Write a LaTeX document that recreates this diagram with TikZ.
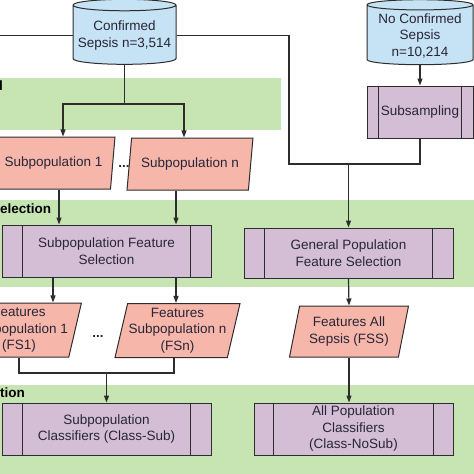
\documentclass[tikz,border=0pt]{standalone}
\usepackage{fontspec}
\setmainfont{Liberation Sans}
\usepackage{tikz}
\usepackage{xcolor}
\usetikzlibrary{shapes.geometric, arrows.meta}

\definecolor{bandgreen}{RGB}{198,229,178}
\definecolor{dbblue}{RGB}{198,226,245}
\definecolor{iopink}{RGB}{246,182,170}
\definecolor{procpurple}{RGB}{212,190,214}
\definecolor{linegray}{RGB}{45,45,45}
\definecolor{textdark}{RGB}{40,38,55}

% vertical side bars of a predefined-process box
\newcommand{\sidebars}[2]{%
  \draw[line] ([xshift=#2]#1.north west) -- ([xshift=#2]#1.south west);
  \draw[line] ([xshift=-#2]#1.north east) -- ([xshift=-#2]#1.south east);}

\begin{document}
\begin{tikzpicture}[
  x=1pt, y=-1pt,
  base/.style={font=\fontsize{13.5}{16.5}\selectfont, text=textdark, align=center, inner sep=1pt},
  db/.style={base, cylinder, shape border rotate=90, aspect=0.12, draw=linegray, line width=1pt, fill=dbblue},
  proc/.style={base, rectangle, draw=linegray, line width=1pt, fill=procpurple},
  io/.style={base, trapezium, trapezium left angle=75, trapezium right angle=105, trapezium stretches=true, draw=linegray, line width=1pt, fill=iopink},
  band label/.style={font=\fontsize{13.5}{16.5}\selectfont\bfseries, text=black, inner sep=0pt, anchor=west},
  line/.style={draw=linegray, line width=1.2pt},
  arrow/.style={line, ->},
  >={Triangle[length=7pt, width=5pt]}
]
  \useasboundingbox (0,0) rectangle (474,474);
  \clip (0,0) rectangle (474,474);

  % Green stage bands
  \fill[bandgreen] (0,78) rectangle (281,130);
  \fill[bandgreen] (0,200) rectangle (474,287);
  \fill[bandgreen] (0,385) rectangle (474,474);
  \node[band label] (lab1) at (-1,86) {l};
  \node[band label] (lab2) at (0,209) {election};
  \node[band label] (lab3) at (0,393) {tion};

  % Data sources
  \node[db, minimum width=103pt, minimum height=65pt] (conf) at (124.5,35.5) {Confirmed\\Sepsis n=3,514};
  \node[db, minimum width=106pt, minimum height=65pt] (nocon) at (420,35.5) {No Confirmed\\Sepsis\\n=10,214};
  \node[proc, minimum width=106pt, minimum height=52pt] (subs) at (420,112) {Subsampling};

  % Subpopulations
  \node[io, minimum width=123pt, minimum height=52pt] (sp1) at (53.5,163) {Subpopulation 1};
  \node[io, minimum width=126pt, minimum height=52pt] (spn) at (190,164) {Subpopulation n};
  \node[base, font=\fontsize{13.5}{16.5}\selectfont\bfseries] (dots1) at (124,166) {...};

  % Feature selection
  \node[proc, minimum width=209pt, minimum height=52pt] (sfs) at (106.5,251) {Subpopulation Feature\\Selection};
  \node[proc, minimum width=209pt, minimum height=50pt] (gpfs) at (348.5,253) {General Population\\Feature Selection};

  % Feature sets
  \node[io, minimum width=124pt, minimum height=54pt] (fs1) at (19,330) {Features\\Subpopulation 1\\(FS1)};
  \node[io, minimum width=125pt, minimum height=54pt] (fsn) at (177.5,330.5) {Features\\Subpopulation n\\(FSn)};
  \node[base, font=\fontsize{13.5}{16.5}\selectfont\bfseries] (dots2) at (98,336) {...};
  \node[io, minimum width=120pt, minimum height=51pt] (fss) at (349,331.5) {Features All\\Sepsis (FSS)};

  % Classifiers
  \node[proc, minimum width=209pt, minimum height=52pt] (csub) at (106.5,429) {Subpopulation\\Classifiers (Class-Sub)};
  \node[proc, minimum width=199pt, minimum height=52pt] (cnosub) at (353.5,429) {All Population\\Classifiers\\(Class-NoSub)};

  \sidebars{subs}{12pt}
  \sidebars{sfs}{21pt}
  \sidebars{gpfs}{21pt}
  \sidebars{csub}{21pt}
  \sidebars{cnosub}{20pt}

  % Connectors off the page
  \coordinate (offleft) at (-5,35.5);
  \coordinate (offright) at (485,50);
  \draw[line] (offleft) -- (conf.west);
  \draw[line] (nocon.east |- offright) -- (offright);

  % Confirmed sepsis split into subpopulations
  \coordinate (fork1) at (124.5,104);
  \draw[line] (conf.south) -- (fork1);
  \draw[arrow] (fork1) -| ([xshift=9.5pt]sp1.north);
  \draw[arrow] (fork1) -| ([xshift=-6pt]spn.north);

  % Subpopulations to feature selection
  \draw[arrow] ([xshift=5.5pt]sp1.south) -- ([xshift=5.5pt]sp1.south |- sfs.north);
  \draw[arrow] ([xshift=-14pt]spn.south) -- ([xshift=-14pt]spn.south |- sfs.north);
  \draw[arrow] ([xshift=34pt]fs1.north |- sfs.south) -- ([xshift=34pt]fs1.north);
  \draw[arrow] ([xshift=-1.5pt]fsn.north |- sfs.south) -- ([xshift=-1.5pt]fsn.north);

  % Feature sets merge into subpopulation classifiers
  \coordinate (fork2) at (106.5,373);
  \draw[line] (fs1.south) |- (fork2);
  \draw[line] ([xshift=-3.5pt]fsn.south) |- (fork2);
  \draw[arrow] (fork2) -- (csub.north);

  % General population branch
  \coordinate (bendr) at (289,164);
  \coordinate (merge) at (348.5,164);
  \draw[arrow] (nocon.south) -- (subs.north);
  \draw[line] (conf.east) -| (bendr) -- (subs.south |- bendr) -- (subs.south);
  \draw[arrow] (merge) -- (gpfs.north);
  \draw[arrow] (gpfs.south) -- (fss.north);
  \draw[arrow] (fss.south) -- (fss.south |- cnosub.north);
\end{tikzpicture}
\end{document}
